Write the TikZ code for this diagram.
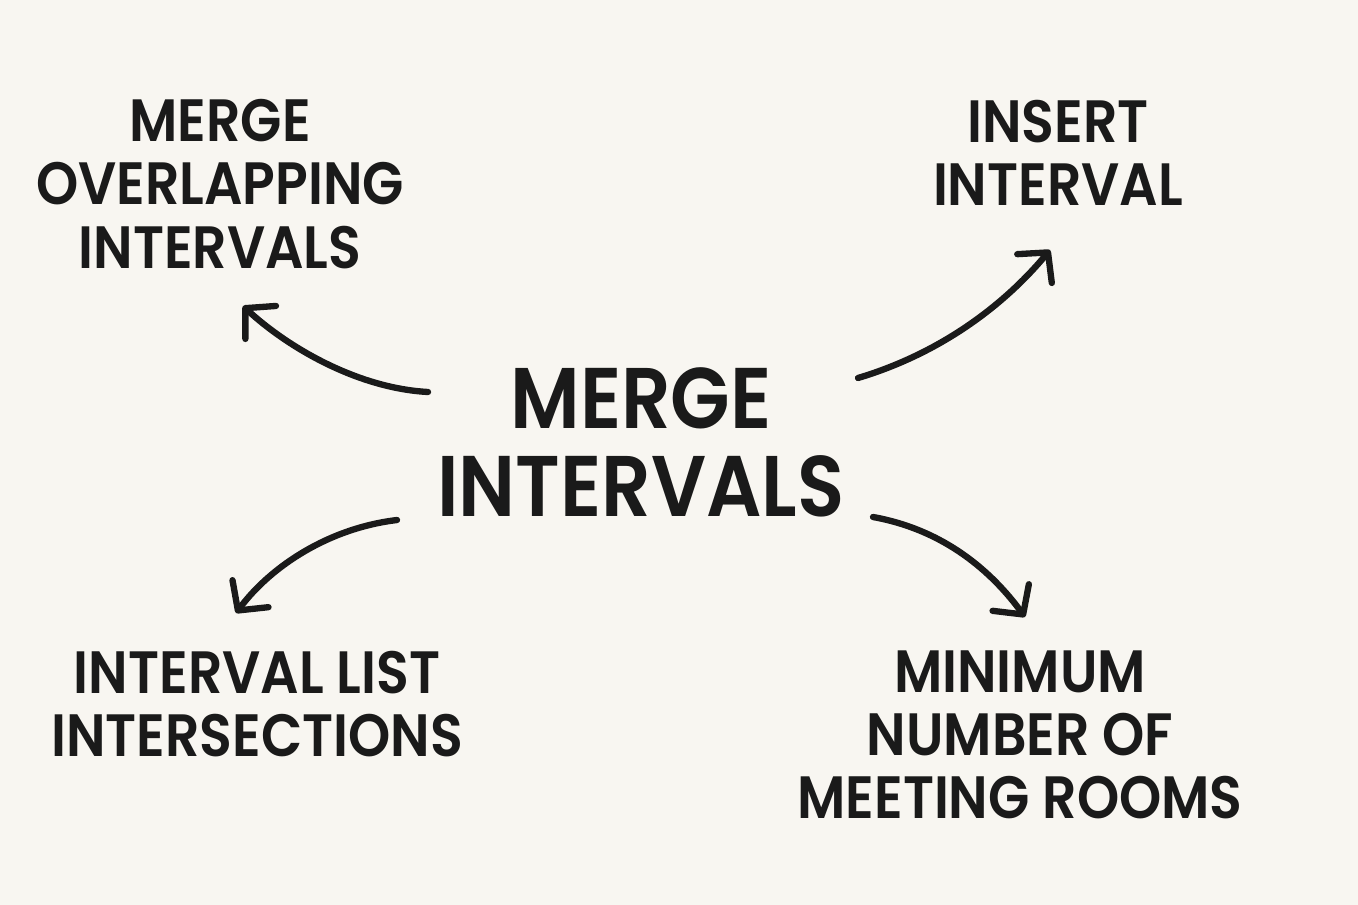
\documentclass[tikz,border=0pt]{standalone}
\usepackage{fontspec}
\setmainfont{Poppins}[FakeStretch=0.9, BoldFont={Poppins SemiBold}, BoldFeatures={FakeStretch=0.9}]
\usepackage{xcolor}
\usepackage{tikz}
\usetikzlibrary{arrows.meta,positioning}

\definecolor{paper}{HTML}{F8F6F1}
\definecolor{ink}{HTML}{1A1A1A}

\begin{document}
\begin{tikzpicture}[
  x=0.02cm, y=-0.02cm,
  % Node styles
  hub/.style={inner sep=0pt, align=center, text=ink, font=\bfseries\fontsize{49}{50}\selectfont},
  topic/.style={inner sep=0pt, align=center, text=ink, font=\bfseries\fontsize{34}{36}\selectfont},
  arr/.style={-{Straight Barb[length=4.2mm, width=9mm, round]}, line width=3.6pt, line cap=round, color=ink}
]

  % background / bounding box
  \fill[paper] (0,0) rectangle (1358,905);
  \useasboundingbox (0,0) rectangle (1358,905);

  % ============================================
  % Nodes
  % ============================================
  \node[hub] (merge) at (641,442) {MERGE\\INTERVALS};

  \node[topic] (overlap) at (220,184) {MERGE\\OVERLAPPING\\INTERVALS};
  \node[topic] (insert) at (1058,153) {INSERT\\INTERVAL};
  \node[topic] (inter) at (257,704) {INTERVAL LIST\\INTERSECTIONS};
  \node[topic] (rooms) at (1020,735) {MINIMUM\\NUMBER OF\\MEETING ROOMS};

  % arrow ends
  \coordinate (tl0) at (428,392);
  \coordinate (tl1) at (243,306);
  \coordinate (tr0) at (858,378);
  \coordinate (tr1) at (1050,250);
  \coordinate (bl0) at (397,520);
  \coordinate (bl1) at (236,613);
  \coordinate (br0) at (873,517);
  \coordinate (br1) at (1025,617);

  % ============================================
  % Edges
  % ============================================
  \draw[arr] (tl0) .. controls (355,388) and (285,345) .. (tl1);
  \draw[arr] (tr0) .. controls (935,355) and (1000,310) .. (tr1);
  \draw[arr] (bl0) .. controls (330,528) and (272,565) .. (bl1);
  \draw[arr] (br0) .. controls (945,530) and (992,572) .. (br1);

\end{tikzpicture}
\end{document}
